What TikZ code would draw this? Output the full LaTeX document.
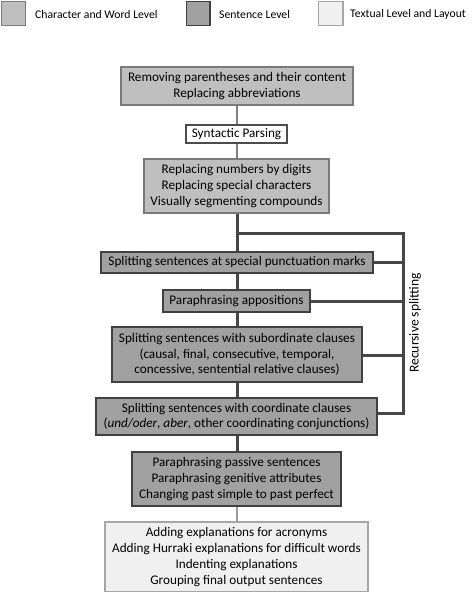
\documentclass[tikz,border=0pt]{standalone}
\usepackage{fontspec}
\setmainfont{Carlito}
\begin{document}
\begin{tikzpicture}[x=1pt,y=-1pt,
  txt/.style={font=\fontsize{13.2}{15.8}\selectfont, align=center, inner sep=0pt},
  lvlA/.style={draw=black!52, fill=black!25, line width=1.6pt},
  lvlB/.style={draw=black!75, fill=black!37, line width=1.8pt},
  lvlC/.style={draw=black!35, fill=black!6, line width=1.6pt},
  plain/.style={draw=black!70, fill=white, line width=1.3pt},
  conA/.style={draw=black!50, line width=2.6pt},
  conB/.style={draw=black!72, line width=3pt},
  conC/.style={draw=black!40, line width=2.6pt},
  legtxt/.style={font=\fontsize{11.7}{14}\selectfont, anchor=west, inner sep=0pt}]
\useasboundingbox (0,0) rectangle (474,593);

% legend
\draw[lvlA] (1.5,1.5) rectangle (25.5,25.5);
\node[legtxt] (l1) at (35,14) {Character and Word Level};
\draw[lvlB] (186.5,1.5) rectangle (210,25.5);
\node[legtxt] (l2) at (219,14) {Sentence Level};
\draw[lvlC] (318.5,1.5) rectangle (343,25.5);
\node[legtxt] (l3) at (350,14) {Textual Level and Layout};

\coordinate (top) at (237,234);
\coordinate (tr) at (403,234);
\coordinate (br) at (403,413);
\coordinate (Ab) at (237,105);
\coordinate (Bt) at (237,125);
\coordinate (Bb) at (237,143);
\coordinate (Ct) at (237,159);
\coordinate (Cb) at (237,213);
\coordinate (Dr) at (373,262.5);
\coordinate (Er) at (310,301);
\coordinate (Fr) at (362,355);
\coordinate (Gr) at (377,413);

% connectors
\draw[conA] (Ab) -- (Bt);
\draw[conA] (Bb) -- (Ct);
\draw[conB] (Cb) -- (top);
\draw[conB, line join=miter] (top) -- (tr) -- (br) -- (Gr);
\draw[conB] (top) -- (237,252);
\draw[conB] (Dr) -- (403,262.5);
\draw[conB] (Er) -- (403,301);
\draw[conB] (Fr) -- (403,355);
\draw[conB] (237,273) -- (237,290);
\draw[conB] (237,312) -- (237,327);
\draw[conB] (237,382) -- (237,398);
\draw[conB] (237,435) -- (237,452);
\draw[conC] (237,506) -- (237,522);

% boxes
\draw[lvlA] (121,67) rectangle (353,105);
\node[txt] (A) at (237,86) {Removing parentheses and their content\\Replacing abbreviations};
\draw[plain] (186,125) rectangle (287,143);
\node[txt] (B) at (236.5,134) {Syntactic Parsing};
\draw[lvlA] (144,159) rectangle (329,213);
\node[txt] (C) at (236.5,186) {Replacing numbers by digits\\Replacing special characters\\Visually segmenting compounds};

\draw[lvlB] (101,252) rectangle (373,273);
\node[txt] (D) at (237,262.5) {Splitting sentences at special punctuation marks};
\draw[lvlB] (163,290) rectangle (310,312);
\node[txt] (E) at (236.5,301) {Paraphrasing appositions};
\draw[lvlB] (112,327) rectangle (362,382);
\node[txt] (F) at (237,354.5) {Splitting sentences with subordinate clauses\\(causal, final, consecutive, temporal,\\concessive, sentential relative clauses)};
\draw[lvlB] (96,398) rectangle (377,435);
\node[txt] (G) at (236.5,416.5) {Splitting sentences with coordinate clauses\\(\textit{und/oder}, \textit{aber}, other coordinating conjunctions)};
\draw[lvlB] (132,452) rectangle (341,506);
\node[txt] (H) at (236.5,479) {Paraphrasing passive sentences\\Paraphrasing genitive attributes\\Changing past simple to past perfect};
\draw[lvlC] (105,522) rectangle (368,591.5);
\node[txt] (I) at (236.5,557) {Adding explanations for acronyms\\Adding Hurraki explanations for difficult words\\Indenting explanations\\Grouping final output sentences};

\node[txt, rotate=90, font=\fontsize{13.6}{15}\selectfont] (R) at (415,323) {Recursive splitting};
\end{tikzpicture}
\end{document}
